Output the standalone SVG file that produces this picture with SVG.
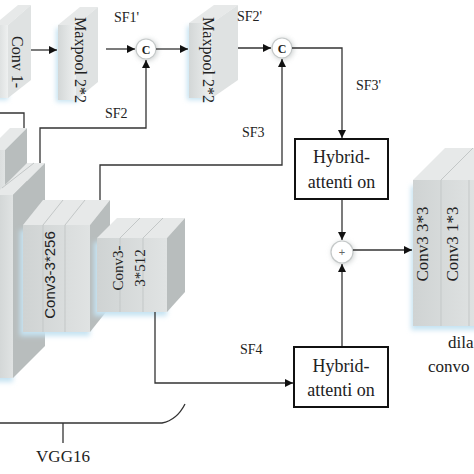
<svg xmlns="http://www.w3.org/2000/svg" width="474" height="474" viewBox="0 0 474 474">
<defs>
  <linearGradient id="gFront" x1="0" y1="0" x2="1" y2="0">
    <stop offset="0" stop-color="#cfd3d3"/>
    <stop offset="1" stop-color="#e0e3e3"/>
  </linearGradient>
  <linearGradient id="gThin" x1="0" y1="0" x2="1" y2="0">
    <stop offset="0" stop-color="#d3d7d7"/>
    <stop offset="1" stop-color="#eef0f0"/>
  </linearGradient>
  <marker id="ah" viewBox="0 0 10 10" refX="10" refY="5" markerWidth="8" markerHeight="8" markerUnits="userSpaceOnUse" orient="auto">
    <path d="M0,0 L10,5 L0,10 z" fill="#111"/>
  </marker>
  <filter id="blur" x="-30%" y="-30%" width="160%" height="160%">
    <feGaussianBlur stdDeviation="2.5"/>
  </filter>
</defs>
<style>
  .front{fill:url(#gFront);}
  .thin{fill:url(#gThin);}
  .top{fill:#e7e9e9;}
  .side{fill:#b8bdbd;}
  .sideL{fill:#dfe2e2;}
  .glow{fill:#c6e3f2;filter:url(#blur);}
  .slab{stroke:#c3c7c7;stroke-width:1;fill:none;}
  .conn{fill:none;stroke:#333;stroke-width:1.3;}
  .lbl{font-family:"Liberation Serif",serif;font-size:14px;fill:#222;}
  .big{font-size:17px;}
  .bt{font-family:"Liberation Serif",serif;font-size:15px;fill:#222;text-anchor:middle;}
  .bt16{font-size:16px;}
  .bt17{font-size:17px;}
  .bs{font-family:"Liberation Sans",sans-serif;font-size:15px;fill:#222;text-anchor:middle;}
  .ha{fill:#fff;stroke:#111;stroke-width:2;}
  .hat{font-family:"Liberation Serif",serif;font-size:18px;fill:#222;text-anchor:middle;}
  .circ{fill:#fff;stroke:#c4c8c8;stroke-width:1.2;}
  .cshadow{fill:#d0d4d4;filter:url(#blur);}
</style>
<rect width="474" height="474" fill="#fff"/>

<!-- VGG16 blocks -->
<g id="conv1">
  <polygon class="glow" points="-6,28 8,28 8,100 -6,100"/>
  <polygon class="thin" points="-6,25 8,25 8,98 -6,98"/>
  <polygon class="top" points="-6,25 18,5 31,5 8,25"/>
  <polygon class="sideL" points="8,25 31,5 31,80 8,98"/>
  <text class="bt bt16" transform="translate(12,62) rotate(90)">Conv 1-</text>
</g>

<g id="maxpool1">
  <polygon class="glow" points="56,28 78,28 78,102 56,102"/>
  <polygon class="thin" points="58,25 76,25 76,100 58,100"/>
  <polygon class="top" points="58,25 80,7 98,7 76,25"/>
  <polygon class="sideL" points="76,25 98,7 98,82 76,100"/>
  <text class="bt bt16" transform="translate(75,60) rotate(90)">Maxpool  2*2</text>
</g>

<g id="maxpool2">
  <polygon class="glow" points="187,26 212,26 212,100 187,100"/>
  <polygon class="thin" points="189,23 212,23 212,98 189,98"/>
  <polygon class="top" points="189,23 214,5 238,5 212,23"/>
  <polygon class="sideL" points="212,23 238,5 238,80 212,98"/>
  <text class="bt bt16" transform="translate(203,60) rotate(90)">Maxpool  2*2</text>
</g>

<g id="blockA">
  <polygon class="front" points="-12,150 5,150 5,330 -12,330"/>
  <polygon class="top" points="-12,150 10,128 27,128 5,150"/>
  <polygon class="side" points="5,150 27,128 27,300 5,322"/>
</g>

<g id="blockB">
  <polygon class="glow" points="-5,200 13,200 13,382 -5,382"/>
  <polygon class="front" points="-5,195 13,195 13,378 -5,378"/>
  <polygon class="top" points="-5,195 27,163 45,163 13,195"/>
  <polygon class="side" points="13,195 45,163 45,346 13,378"/>
  <line class="slab" x1="2" y1="188" x2="34" y2="163"/>
</g>

<g id="conv3_256">
  <polygon class="glow" points="20,230 90,230 90,336 20,336"/>
  <polygon class="front" points="23,225 90,225 90,332 23,332"/>
  <polygon class="top" points="23,225 43,200 110,200 90,225"/>
  <polygon class="side" points="90,225 110,200 110,307 90,332"/>
  <path class="slab" d="M43,225 V332 M65,225 V332 M43,225 L63,200 M65,225 L85,200"/>
  <text class="bs" transform="translate(55,275) rotate(-90)">Conv3-3*256</text>
</g>

<g id="conv3_512">
  <polygon class="glow" points="94,242 167,242 167,316 94,316"/>
  <polygon class="front" points="97,238 167,238 167,312 97,312"/>
  <polygon class="top" points="97,238 117,218 185,218 167,238"/>
  <polygon class="side" points="167,238 185,218 185,292 167,312"/>
  <path class="slab" d="M120,238 V312 M143,238 V312 M120,238 L140,218 M143,238 L163,218"/>
  <text class="bt" transform="translate(123,268) rotate(-90)">Conv3-</text>
  <text class="bt" transform="translate(145,268) rotate(-90)">3*512</text>
</g>

<!-- dilated convolution block -->
<g id="dilated">
  <polygon class="glow" points="411,186 480,186 480,330 411,330"/>
  <polygon class="front" points="413,180 480,180 480,326 413,326"/>
  <polygon class="top" points="413,180 445,148 480,148 480,180"/>
  <path class="slab" d="M441,180 V326 M469,180 V326 M441,180 L473,148"/>
  <text class="bt bt17" transform="translate(428,244) rotate(-90)">Conv3  3*3</text>
  <text class="bt bt17" transform="translate(458,244) rotate(-90)">Conv3  1*3</text>
  <text class="lbl big" x="448" y="348">dila</text>
  <text class="lbl big" x="428" y="372">convo</text>
</g>

<!-- concat / add nodes -->
<g id="c1">
  <circle class="cshadow" cx="147" cy="50" r="11"/>
  <circle class="circ" cx="146" cy="49" r="10"/>
  <text x="146" y="53.5" font-family="Liberation Serif,serif" font-size="12" font-weight="bold" text-anchor="middle" fill="#222">C</text>
</g>
<g id="c2">
  <circle class="cshadow" cx="283" cy="49" r="11"/>
  <circle class="circ" cx="282" cy="48" r="10"/>
  <text x="282" y="52.5" font-family="Liberation Serif,serif" font-size="12" font-weight="bold" text-anchor="middle" fill="#222">C</text>
</g>
<g id="plus">
  <circle class="cshadow" cx="343" cy="253" r="11.5"/>
  <circle class="circ" cx="342" cy="252" r="11"/>
  <text x="342" y="256" font-family="Liberation Sans,sans-serif" font-size="11" text-anchor="middle" fill="#666">+</text>
</g>

<!-- hybrid attention -->
<g id="ha1">
  <rect class="ha" x="295" y="139" width="93" height="60"/>
  <text class="hat" x="341.5" y="163">Hybrid-</text>
  <text class="hat" x="341.5" y="188">attenti on</text>
</g>
<g id="ha2">
  <rect class="ha" x="294" y="347" width="94" height="60"/>
  <text class="hat" x="341" y="372">Hybrid-</text>
  <text class="hat" x="341" y="396">attenti on</text>
</g>

<!-- connectors -->
<g id="connectors">
  <line class="conn" x1="31" y1="50" x2="57" y2="50" marker-end="url(#ah)"/>
  <line class="conn" x1="106" y1="49" x2="135" y2="49" marker-end="url(#ah)"/>
  <line class="conn" x1="156" y1="49" x2="188" y2="49" marker-end="url(#ah)"/>
  <line class="conn" x1="238" y1="48" x2="271" y2="48" marker-end="url(#ah)"/>
  <polyline class="conn" points="292,48 342,48 342,138" marker-end="url(#ah)"/>
  <polyline class="conn" points="40,163 40,128 146,128 146,60" marker-end="url(#ah)"/>
  <polyline class="conn" points="100,200 100,165 282,165 282,59" marker-end="url(#ah)"/>
  <polyline class="conn" points="0,113 24,113 24,128"/>
  <polyline class="conn" points="155,312 155,383 293,383" marker-end="url(#ah)"/>
  <line class="conn" x1="342" y1="200" x2="342" y2="240" marker-end="url(#ah)"/>
  <line class="conn" x1="342" y1="346" x2="342" y2="264" marker-end="url(#ah)"/>
  <line class="conn" x1="353" y1="250" x2="412" y2="250" marker-end="url(#ah)"/>
  <path class="conn" d="M0,423 H162 Q177,420 185,404"/>
  <line class="conn" x1="63" y1="423" x2="63" y2="443"/>
</g>

<!-- labels -->
<text class="lbl" x="114" y="22">SF1'</text>
<text class="lbl" x="237" y="21">SF2'</text>
<text class="lbl" x="356" y="90">SF3'</text>
<text class="lbl" x="105" y="118">SF2</text>
<text class="lbl" x="242" y="137">SF3</text>
<text class="lbl" x="240" y="354">SF4</text>
<text class="lbl big" x="63" y="462" text-anchor="middle">VGG16</text>
</svg>
